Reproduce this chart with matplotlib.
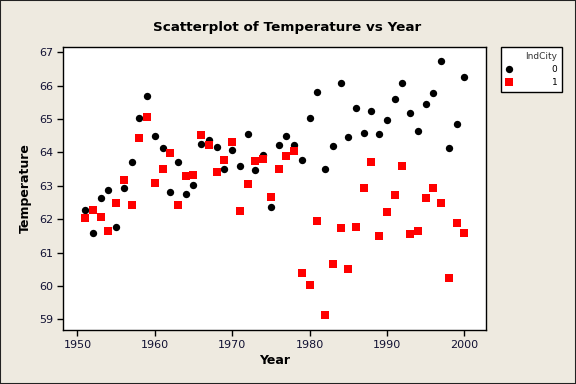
import matplotlib
matplotlib.use("Agg")
import matplotlib.pyplot as plt
from matplotlib.patches import Rectangle

years = list(range(1951, 2001))

# IndCity = 0
temp_city0 = [62.27, 61.58, 62.63, 62.87, 61.76, 62.93, 63.71, 65.02, 65.68, 64.49,
              64.13, 62.81, 63.71, 62.75, 63.02, 64.25, 64.37, 64.16, 63.50, 64.07,
              63.59, 64.54, 63.47, 63.92, 62.36, 64.22, 64.49, 64.22, 63.77, 65.02,
              65.80, 63.50, 64.19, 66.07, 64.46, 65.32, 64.57, 65.23, 64.54, 64.96,
              65.59, 66.07, 65.17, 64.63, 65.44, 65.77, 66.73, 64.13, 64.84, 66.25]

# IndCity = 1
temp_city1 = [62.03, 62.27, 62.06, 61.64, 62.48, 63.17, 62.42, 64.43, 65.05, 63.08,
              63.50, 63.98, 62.42, 63.29, 63.32, 64.51, 64.22, 63.41, 63.77, 64.31,
              62.24, 63.05, 63.74, 63.80, 62.66, 63.50, 63.89, 64.04, 60.38, 60.02,
              61.94, 59.13, 60.65, 61.73, 60.50, 61.76, 62.93, 63.71, 61.49, 62.21,
              62.72, 63.59, 61.55, 61.64, 62.63, 62.93, 62.48, 60.23, 61.88, 61.58]

x_ticks = [1950, 1960, 1970, 1980, 1990, 2000]
y_ticks = [59, 60, 61, 62, 63, 64, 65, 66, 67]

bg = "#EEEAE0"

fig = plt.figure(figsize=(5.76, 3.84), dpi=100, facecolor=bg)
fig.patches.append(Rectangle((0, 0), 1, 1, transform=fig.transFigure,
                             fill=False, edgecolor="#222222", linewidth=1.5))

ax = fig.add_axes([62.7 / 576, 1 - 330 / 384, (486 - 62.7) / 576, (330 - 46.7) / 384])
ax.set_facecolor("white")

ax.scatter(years, temp_city0, marker="o", s=28, color="black", linewidths=0, label="0", zorder=3)
ax.scatter(years, temp_city1, marker="s", s=28, color="#FF0000", linewidths=0, label="1", zorder=3)

ax.set_xlim(1948.1, 2002.8)
ax.set_ylim(58.68, 67.17)
ax.set_xticks(x_ticks)
ax.set_yticks(y_ticks)
ax.tick_params(direction="out", length=4, width=1, labelsize=8, colors="black",
               labelcolor="#111133", pad=3)
for sp in ax.spines.values():
    sp.set_linewidth(1)
    sp.set_color("black")

ax.set_xlabel("Year", fontsize=9, fontweight="bold", labelpad=3)
ax.set_ylabel("Temperature", fontsize=9, fontweight="bold", labelpad=5)
fig.text(287 / 576, 1 - 27 / 384, "Scatterplot of Temperature vs Year",
         ha="center", va="center", fontsize=9.7, fontweight="bold")

leg = ax.legend(title="IndCity", loc="upper left",
                bbox_to_anchor=(500.7 / 576, 1 - 46.7 / 384), bbox_transform=fig.transFigure,
                borderaxespad=0, fontsize=6.5, title_fontsize=6.5, alignment="right",
                handlelength=0.8, handletextpad=4.3, fancybox=False, framealpha=1,
                edgecolor="black", borderpad=0.55, labelspacing=0.45)
leg.get_frame().set_linewidth(1)
leg.get_title().set_color("#333333")

fig.savefig("out.png", dpi=100, facecolor=bg)
